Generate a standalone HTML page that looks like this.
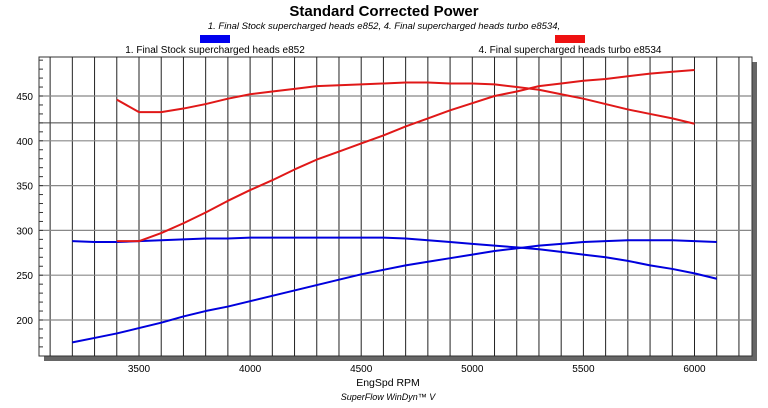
<!DOCTYPE html>
<html><head><meta charset="utf-8"><style>
body{margin:0;background:#fff;width:768px;height:403px;overflow:hidden;font-family:"Liberation Sans",Arial,sans-serif}
</style></head><body>
<svg id="chart" width="768" height="403" xmlns="http://www.w3.org/2000/svg" font-family="Liberation Sans, Arial, sans-serif">
<text x="384" y="16" text-anchor="middle" font-size="15" font-weight="bold">Standard Corrected Power</text>
<text x="384" y="29" text-anchor="middle" font-size="9.5" font-style="italic">1. Final Stock supercharged heads e852, 4. Final supercharged heads turbo e8534,</text>
<rect x="200" y="35" width="30" height="8" fill="#0000ee"/>
<text x="215" y="53" text-anchor="middle" font-size="10">1. Final Stock supercharged heads e852</text>
<rect x="555" y="35" width="30" height="8" fill="#ee1111"/>
<text x="570" y="53" text-anchor="middle" font-size="10">4. Final supercharged heads turbo e8534</text>
<rect x="44" y="62" width="713" height="299" fill="#666"/>
<rect x="39" y="57" width="713" height="299" fill="#fff" stroke="#333" stroke-width="1"/>
<g id="grid"></g><g id="series"></g><g id="axes"></g>
<text x="388" y="386" text-anchor="middle" font-size="10.5">EngSpd RPM</text>
<text x="388" y="400" text-anchor="middle" font-size="9" font-style="italic">SuperFlow WinDyn™ V</text>
</svg>
<script>
const rpm=[3200,3300,3400,3500,3600,3700,3800,3900,4000,4100,4200,4300,4400,4500,4600,4700,4800,4900,5000,5100,5200,5300,5400,5500,5600,5700,5800,5900,6000,6100];
const stockFlat=[288,287,287,288,289,290,291,291,292,292,292,292,292,292,292,291,289,287,285,283,281,279,276,273,270,266,261,257,252,246];
const stockRise=[175,180,185,191,197,204,210,215,221,227,233,239,245,251,256,261,265,269,273,277,280,283,285,287,288,289,289,289,288,287];
const turboRpm=[3400,3500,3600,3700,3800,3900,4000,4100,4200,4300,4400,4500,4600,4700,4800,4900,5000,5100,5200,5300,5400,5500,5600,5700,5800,5900,6000];
const turboRise=[288,288,297,308,320,333,345,356,368,379,388,397,406,416,425,434,442,450,455,461,464,467,469,472,475,477,479];
const turboUpper=[446,432,432,436,441,447,452,455,458,461,462,463,464,465,465,464,464,463,460,457,452,447,441,435,430,425,419];
const xTicks=[3500,4000,4500,5000,5500,6000];
const yTicks=[200,250,300,350,400,450];
const NS='http://www.w3.org/2000/svg';
const X=v=>139+(v-3500)*0.2222;
const Y=v=>96+(450-v)*0.896;
function mk(p,t,a){const e=document.createElementNS(NS,t);for(const k in a)e.setAttribute(k,a[k]);p.appendChild(e);return e;}
const grid=document.getElementById('grid'),axes=document.getElementById('axes'),ser=document.getElementById('series');
for(let r=3100;r<=6200;r+=100){const l=mk(grid,'line',{x1:X(r),x2:X(r),y1:57,y2:356,stroke:'#222','stroke-width':1});

}
for(const v of yTicks){const l=mk(grid,'line',{x1:39,x2:752,y1:Y(v),y2:Y(v),stroke:'#888','stroke-width':1.2});


const t=mk(axes,'text',{x:33,y:Y(v)+4,'text-anchor':'end','font-size':10});t.textContent=v;

}
{const l=mk(grid,'line',{x1:39,x2:752,y1:Y(420),y2:Y(420),stroke:'#444','stroke-width':1});

}
for(let v=170;v<=490;v+=10){const l=mk(axes,'line',{x1:39,x2:43,y1:Y(v),y2:Y(v),stroke:'#333'});

}
for(const r of xTicks){const t=mk(axes,'text',{x:X(r),y:372,'text-anchor':'middle','font-size':10});t.textContent=r;

}
function line(xs,ys,c,name){const p=mk(ser,'polyline',{points:xs.map((x,i)=>X(x)+','+Y(ys[i])).join(' '),fill:'none',stroke:c,'stroke-width':2,'stroke-linejoin':'round'});

}
line(rpm,stockFlat,'#0000dd','series-stock-flat');
line(rpm,stockRise,'#0000dd','series-stock-rise');
line(turboRpm,turboRise,'#e01818','series-turbo-rise');
line(turboRpm,turboUpper,'#e01818','series-turbo-upper');
</script>
</body></html>
